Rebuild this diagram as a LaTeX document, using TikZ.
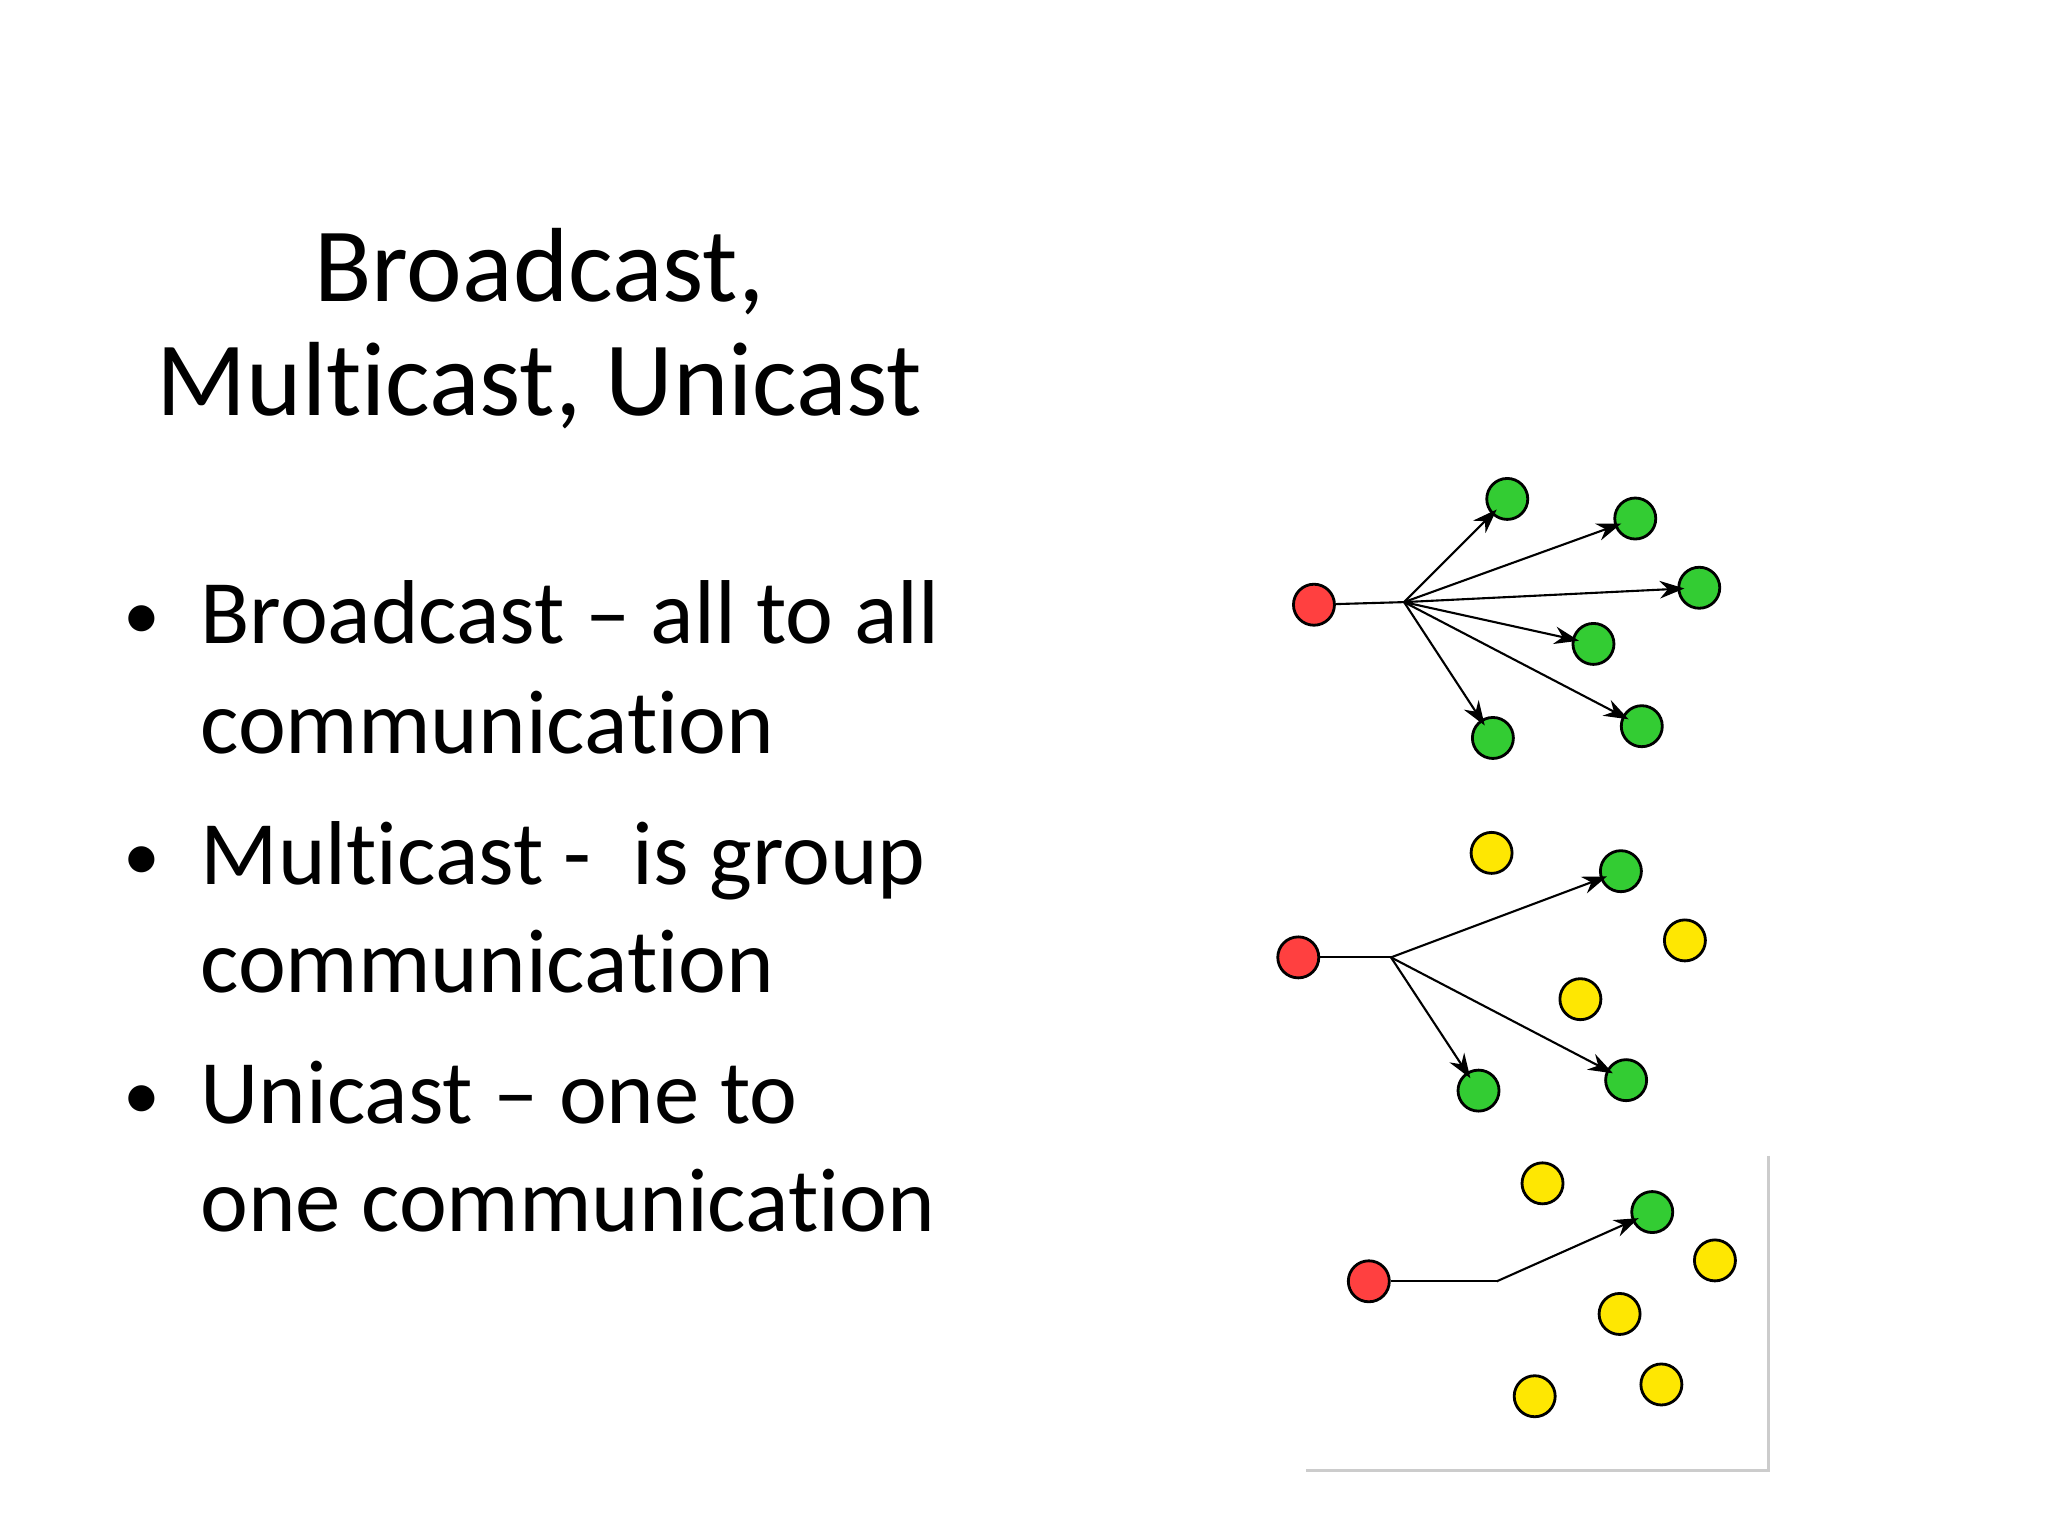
\documentclass[tikz,border=0pt]{standalone}
\usepackage{fontspec}
\setmainfont[Ligatures=NoCommon]{Carlito}
\usetikzlibrary{arrows.meta}
\begin{document}
\begin{tikzpicture}[x=0.01306cm,y=-0.01306cm,
  dot/.style={circle,draw=black,line width=0.8pt,minimum size=0.41cm,inner sep=0pt},
  red/.style={dot,fill=red!75!white},
  grn/.style={dot,fill=green!75!black!80!white},
  yel/.style={dot,fill=yellow!90!orange},
  ar/.style={-{Stealth[length=7pt,width=5pt]},line width=0.6pt,shorten >=-2pt},
  ln/.style={line width=0.6pt},
  bl/.style={anchor=base west,inner sep=0pt,font=\fontsize{25.8}{31}\selectfont},
  bu/.style={anchor=base west,inner sep=0pt,font=\fontsize{21}{31}\selectfont},
  tt/.style={anchor=base,inner sep=0pt,font=\fontsize{30}{32}\selectfont}]
\useasboundingbox (0,0) rectangle (1568,1176);
\fill[white] (0,0) rectangle (1568,1176);
\node[tt] (t1) at (413,231) {Broadcast,};
\node[tt] (t2) at (413,318) {Multicast, Unicast};
\node[bu] (b1) at (94,490) {•};
\node[bl] (l1) at (153,493) {Broadcast – all to all};
\node[bl] (l2) at (153,577) {communication};
\node[bu] (b2) at (94,674) {•};
\node[bl] (l3) at (153,677) {Multicast -\ \ is group};
\node[bl] (l4) at (153,760) {communication};
\node[bu] (b3) at (94,857) {•};
\node[bl] (l5) at (153,860) {Unicast – one to};
\node[bl] (l6) at (153,943) {one communication};
% broadcast
\node[red] (r1) at (1006,463) {};
\coordinate (j1) at (1075,461);
\foreach \n/\p in {a/{1154,382},b/{1252,397},c/{1301,450},d/{1220,493},e/{1257,556},f/{1143,565}}{
  \node[grn] (g\n) at (\p) {};
  \draw[ar] (j1) -- (g\n);}
\draw[ln] (r1) -- (j1);
% multicast
\node[red] (r2) at (994,733) {};
\coordinate (j2) at (1065,733);
\node[yel] (y1) at (1142,653) {};
\node[yel] (y2) at (1290,720) {};
\node[yel] (y3) at (1210,765) {};
\foreach \n/\p in {a/{1241,667},b/{1245,827},c/{1132,835}}{
  \node[grn] (m\n) at (\p) {};
  \draw[ar] (j2) -- (m\n);}
\draw[ln] (r2) -- (j2);
% unicast
\draw[gray!40,line width=0.8pt] (1354,885) -- (1354,1126) -- (1000,1126);
\node[red] (r3) at (1048,981) {};
\coordinate (j3) at (1146,981);
\node[grn] (u1) at (1265,928) {};
\foreach \n/\p in {a/{1181,906},b/{1313,965},c/{1240,1006},d/{1175,1069},e/{1272,1060}}{
  \node[yel] (uy\n) at (\p) {};}
\draw[ln] (r3) -- (j3);
\draw[ar] (j3) -- (u1);
\end{tikzpicture}
\end{document}
